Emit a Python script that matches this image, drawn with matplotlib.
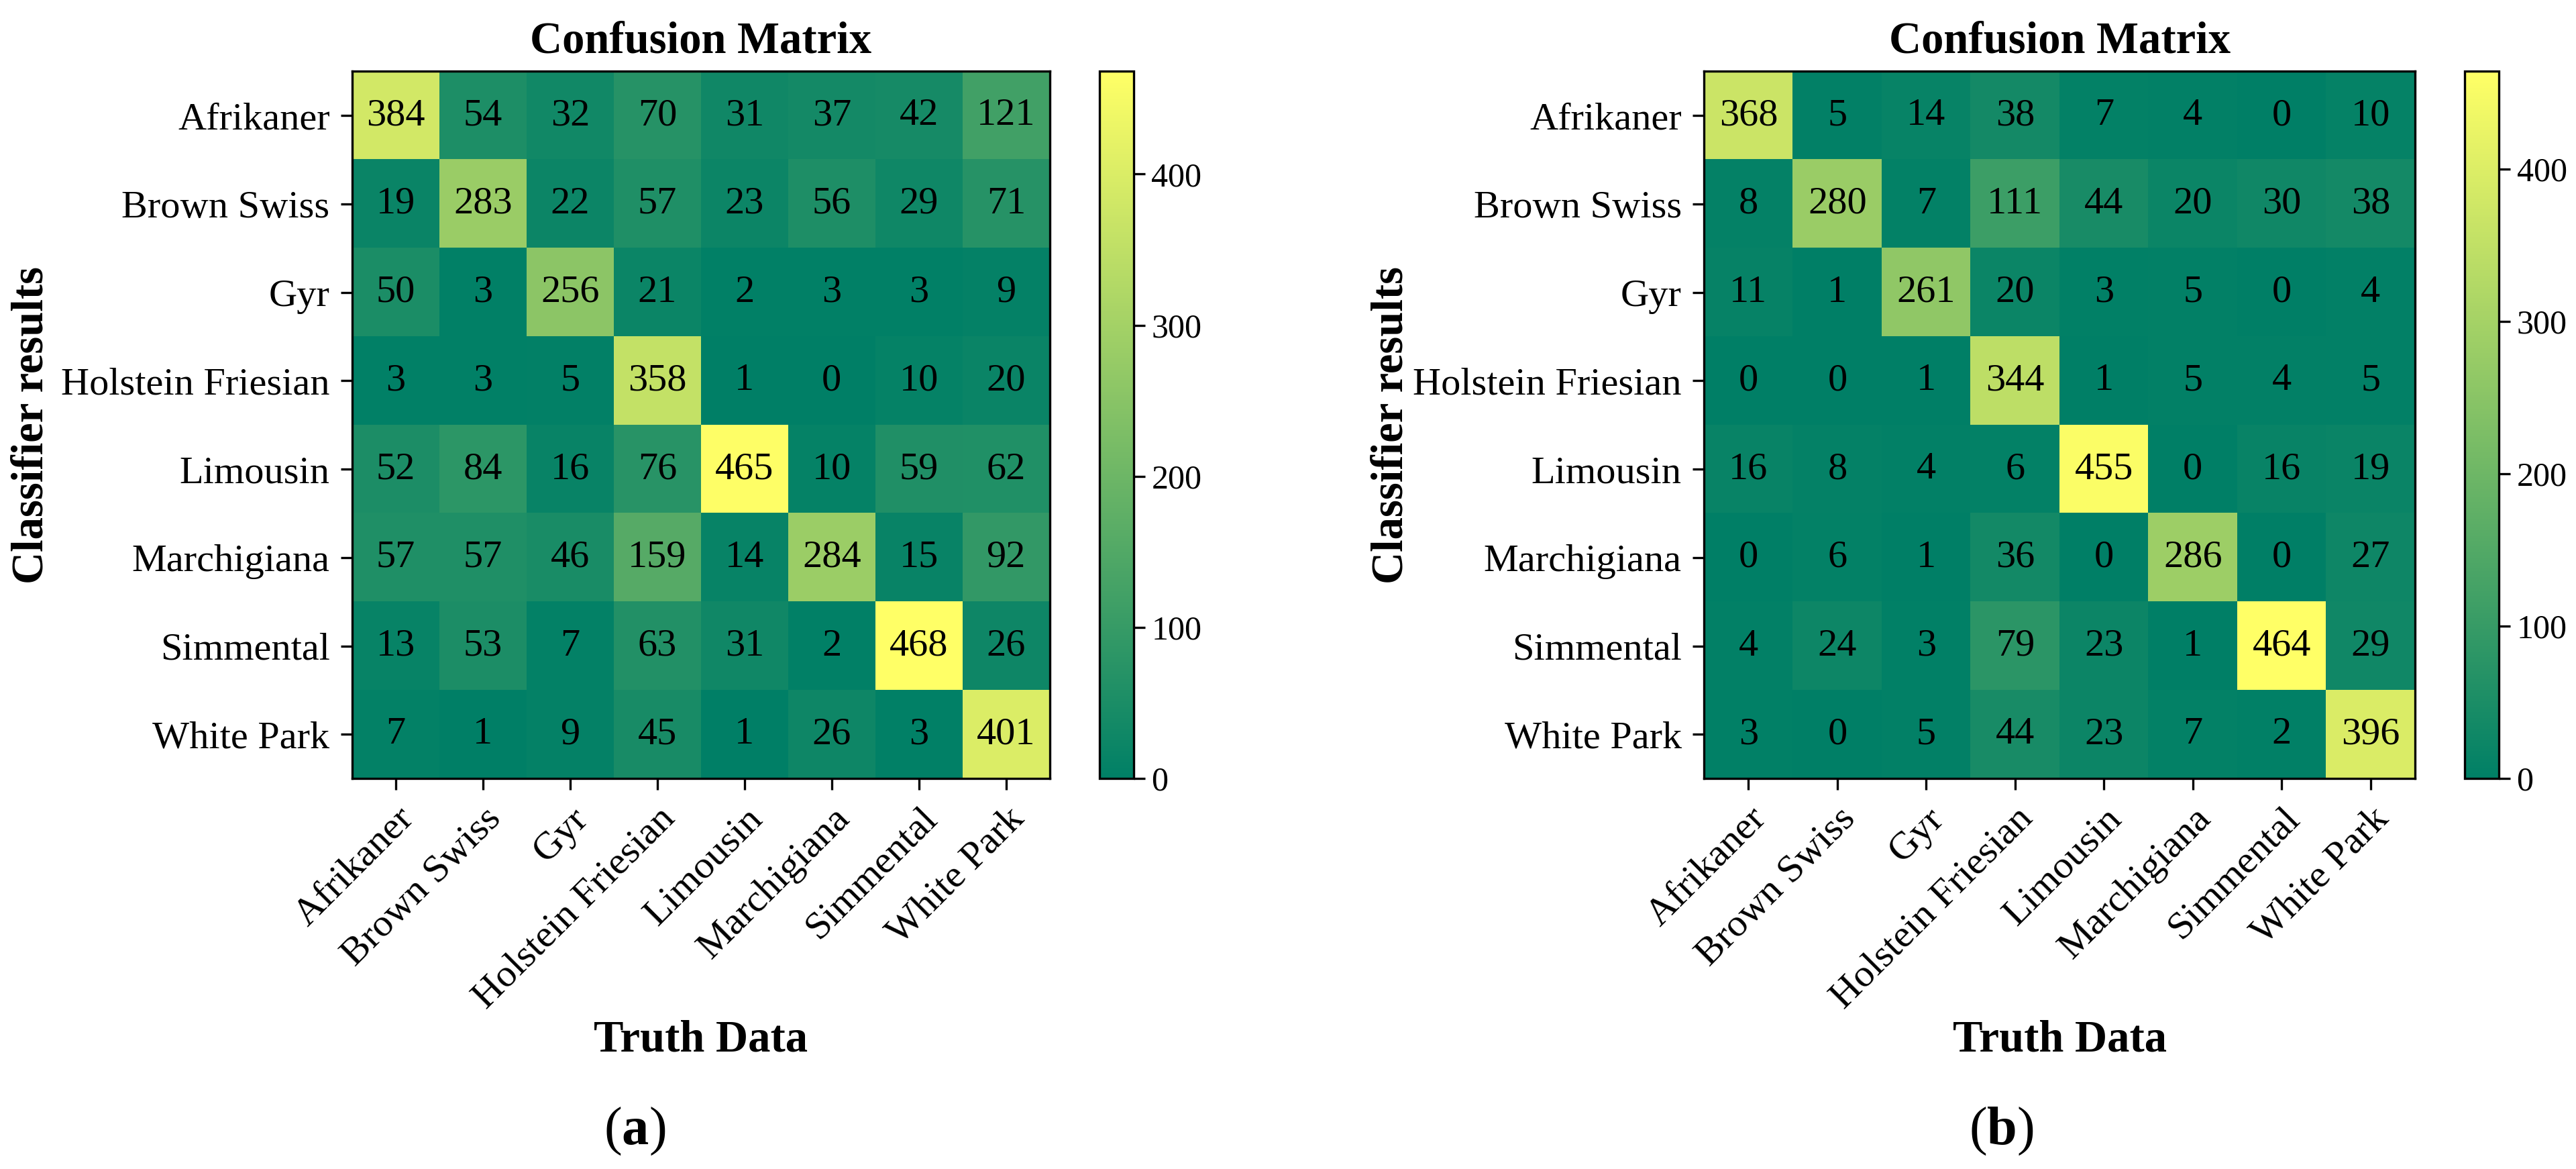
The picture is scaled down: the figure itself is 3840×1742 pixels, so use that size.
import numpy as np
import matplotlib
matplotlib.use('Agg')
import matplotlib.pyplot as plt

plt.rcParams['font.family'] = ['Liberation Serif', 'DejaVu Serif']
plt.rcParams['mathtext.fontset'] = 'custom'
plt.rcParams['mathtext.rm'] = 'Liberation Serif'
plt.rcParams['mathtext.bf'] = 'Liberation Serif:bold'

breeds = ['Afrikaner', 'Brown Swiss', 'Gyr', 'Holstein Friesian',
          'Limousin', 'Marchigiana', 'Simmental', 'White Park']

cm_a = [
    [384, 54, 32, 70, 31, 37, 42, 121],
    [19, 283, 22, 57, 23, 56, 29, 71],
    [50, 3, 256, 21, 2, 3, 3, 9],
    [3, 3, 5, 358, 1, 0, 10, 20],
    [52, 84, 16, 76, 465, 10, 59, 62],
    [57, 57, 46, 159, 14, 284, 15, 92],
    [13, 53, 7, 63, 31, 2, 468, 26],
    [7, 1, 9, 45, 1, 26, 3, 401],
]

cm_b = [
    [368, 5, 14, 38, 7, 4, 0, 10],
    [8, 280, 7, 111, 44, 20, 30, 38],
    [11, 1, 261, 20, 3, 5, 0, 4],
    [0, 0, 1, 344, 1, 5, 4, 5],
    [16, 8, 4, 6, 455, 0, 16, 19],
    [0, 6, 1, 36, 0, 286, 0, 27],
    [4, 24, 3, 79, 23, 1, 464, 29],
    [3, 0, 5, 44, 23, 7, 2, 396],
]

fig = plt.figure(figsize=(19.2, 8.71), dpi=200)

panels = [
    (cm_a, [0.1367, 0.334, 0.2708, 0.605], [0.4268, 0.334, 0.0133, 0.605], -0.46, 0.2465, 'a'),
    (cm_b, [0.6615, 0.334, 0.2760, 0.605], [0.9568, 0.334, 0.0133, 0.605], -0.44, 0.777, 'b'),
]

for cm, pos, cpos, ylab_x, cap_x, tag in panels:
    data = np.array(cm)
    ax = fig.add_axes(pos)
    cax = fig.add_axes(cpos)
    im = ax.imshow(data, cmap='summer', vmin=0, vmax=data.max(), aspect='auto')
    for i in range(data.shape[0]):
        for j in range(data.shape[1]):
            ax.text(j, i, str(data[i, j]), ha='center', va='center',
                    fontsize=21, color='black')
    n = len(breeds)
    ax.set_xticks(range(n))
    ax.set_yticks(range(n))
    ax.set_xticklabels(breeds, rotation=45, ha='right', rotation_mode='anchor', fontsize=21)
    ax.set_yticklabels(breeds, fontsize=21)
    ax.tick_params(length=6, width=1.2, pad=6)
    for s in ax.spines.values():
        s.set_linewidth(1.2)
    ax.set_title('Confusion Matrix', fontsize=24, fontweight='bold', pad=10)
    ax.set_xlabel('Truth Data', fontsize=24, fontweight='bold')
    ax.xaxis.label.set_va('center')
    ax.xaxis.set_label_coords(0.5, -0.37)
    ax.set_ylabel('Classifier results', fontsize=24, fontweight='bold')
    ax.yaxis.label.set_va('center')
    ax.yaxis.set_label_coords(ylab_x, 0.5)

    cb = fig.colorbar(im, cax=cax, ticks=[0, 100, 200, 300, 400])
    cb.ax.tick_params(labelsize=18, length=6, width=1.2)
    cb.outline.set_linewidth(1.2)

    fig.text(cap_x, 1 - 1686 / 1742, r'($\mathbf{%s}$)' % tag, ha='center', va='center',
             fontsize=29)

plt.savefig('out.png', dpi=200)
plt.close()
